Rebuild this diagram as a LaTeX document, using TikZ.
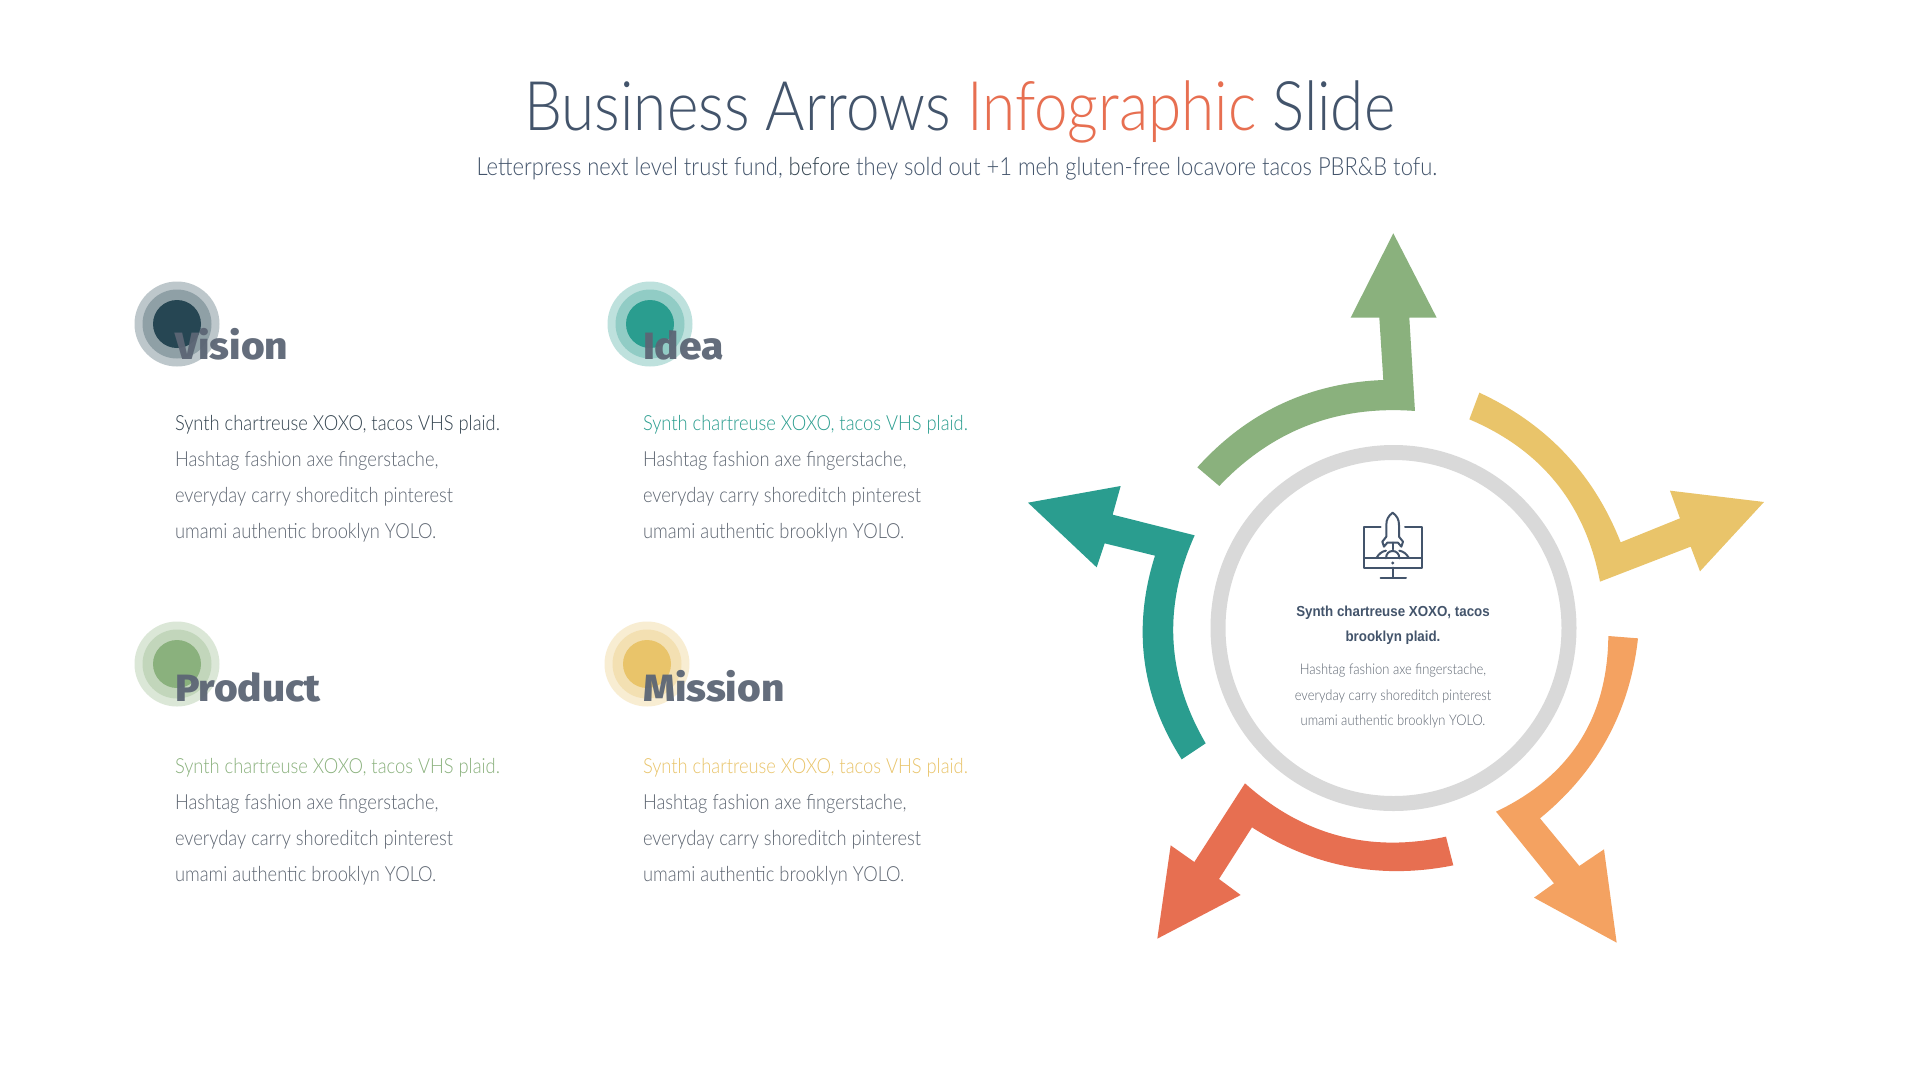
\documentclass[tikz,border=0pt]{standalone}
\usepackage{fontspec}
\setmainfont[UprightFont=* Light,BoldFont=* Black,FakeStretch=0.88]{Lato}
\newfontfamily\headfont[FakeStretch=1.07]{Fira Sans ExtraBold}
\newfontfamily\boldfont[FakeStretch=0.92]{Liberation Sans}
\definecolor{cgreen}{HTML}{8AB17D}
\definecolor{cyellow}{HTML}{E9C46A}
\definecolor{corange}{HTML}{F4A261}
\definecolor{cred}{HTML}{E76F51}
\definecolor{cteal}{HTML}{2A9D8F}
\definecolor{cdark}{HTML}{264653}
\definecolor{cring}{HTML}{D9D9D9}
\definecolor{ctitle}{HTML}{43546B}
\definecolor{chead}{HTML}{5C6675}
\definecolor{cbody}{HTML}{5E6672}
\definecolor{cfirst}{HTML}{33434F}
\tikzset{
  pic px/.style={x=1pt,y=-1pt},
  zoomed/.style 2 args={shift={(#1,#2)},x=0.3333pt,y=-0.3333pt},
  txt/.style={anchor=base west,inner sep=0pt,outer sep=0pt},
  ctr/.style={anchor=base,inner sep=0pt,outer sep=0pt},
  bodytxt/.style={txt,text=cbody,font=\fontsize{20.8}{26}\selectfont},
  headtxt/.style={txt,text=chead,opacity=.95,font=\headfont\fontsize{38}{44}\selectfont},
  halo/.style={circle,fill=#1,fill opacity=.3,inner sep=0pt,outer sep=0pt},
  dot/.style={circle,fill=#1,inner sep=0pt,outer sep=0pt,minimum size=48pt},
  icon/.style={draw=ctitle,line width=2pt,line cap=round,line join=round,fill=none},
}
\newcommand{\halos}[4]{%
  \node[halo=#4,minimum size=85pt] (#1o) at (#2,#3) {};
  \node[halo=#4,minimum size=69pt] (#1m) at (#2,#3) {};
  \node[dot=#4] (#1i) at (#2,#3) {};
}
\newcommand{\bodyblock}[4]{%
  \node[bodytxt,text=#4] (#1a) at (#2,#3) {Synth chartreuse XOXO, tacos VHS plaid.};
  \node[bodytxt] (#1b) at (#2,#3+36) {Hashtag fashion axe fingerstache,};
  \node[bodytxt] (#1c) at (#2,#3+72) {everyday carry shoreditch pinterest};
  \node[bodytxt] (#1d) at (#2,#3+108) {umami authentic brooklyn YOLO.};
}
% circular-looking segment from the current point (x0,y0) through (mx,my) to (x2,y2)
\newcommand{\qa}[6]{.. controls ({(4*#3-#5)/3},{(4*#4-#6)/3}) and ({(4*#3-#1)/3},{(4*#4-#2)/3}) .. (#5,#6)}
\begin{document}
\begin{tikzpicture}[pic px]
\useasboundingbox (0,0) rectangle (1920,1080);
\fill[white] (0,0) rectangle (1920,1080);

\node[ctr,text=ctitle,font=\fontsize{68.4}{80}\selectfont] (title) at (960,130) {Business Arrows \textcolor{cred}{Infographic} Slide};
\node[ctr,text=ctitle,font=\fontsize{25}{30}\selectfont] (subtitle) at (957,175) {Letterpress next level trust fund, \textcolor{cfirst}{before} they sold out +1 meh gluten-free locavore tacos PBR\&B tofu.};

\halos{v}{177}{324}{cdark}
\halos{i}{650}{324}{cteal}
\halos{p}{177}{664}{cgreen}
\halos{m}{647}{664}{cyellow}

\node[headtxt] (vision) at (175,359) {Vision};
\node[headtxt] (idea) at (643,359) {Idea};
\node[headtxt] (product) at (175,701) {Product};
\node[headtxt] (mission) at (643,701) {Mission};

\bodyblock{vb}{175}{430.5}{cfirst}
\bodyblock{ib}{643}{430.5}{cteal}
\bodyblock{pb}{175}{773}{cgreen}
\bodyblock{mb}{643}{773}{cyellow}

\node[circle,draw=cring,line width=15pt,minimum size=351pt,inner sep=0pt] (ring) at (1393.5,628) {};

\begin{scope}[zoomed={1180}{220}]
\fill[cgreen] (640,40) -- (770,293) -- (688,293) -- (705,573) \qa{705}{573}{384}{616}{118}{798} -- (52,742) \qa{52}{742}{304}{552}{610}{480} -- (598,293) -- (512,293) -- cycle;
\end{scope}
\begin{scope}[zoomed={1450}{380}]
\fill[cyellow] (88,38) \qa{88}{38}{345}{220}{512}{487} -- (690,415) -- (660,332) -- (942,366) -- (750,574) -- (722,500) -- (450,605) \qa{450}{605}{319}{309}{58}{118} -- cycle;
\end{scope}
\begin{scope}[zoomed={1480}{620}]
\fill[corange] (474,55) \qa{474}{55}{382}{355}{180}{595} -- (298,738) -- (372,688) -- (410,968) -- (162,833) -- (222,790) -- (48,575) \qa{48}{575}{299}{364}{385}{48} -- cycle;
\end{scope}
\begin{scope}[zoomed={1140}{770}]
\fill[cred] (52,506) -- (92,226) -- (163,276) -- (315,40) \qa{315}{40}{596}{197}{918}{200} -- (940,286) \qa{940}{286}{626.5}{290}{336}{172} -- (237,327) -- (302,375) -- cycle;
\end{scope}
\begin{scope}[zoomed={1020}{480}]
\fill[cteal] (24,68) -- (302,18) -- (278,104) -- (524,166) \qa{524}{166}{460.5}{482}{557}{790} -- (485,838) \qa{485}{838}{373.6}{542}{405}{227} -- (254,190) -- (230,262) -- cycle;
\end{scope}

% icon
\begin{scope}[zoomed={1280}{490}]
\draw[icon] (302,110) -- (253,110) -- (253,233) -- (425,233) -- (425,110) -- (375,110);
\draw[icon] (253,205) -- (425,205);
\fill[ctitle] (338,219) circle[radius=5];
\draw[icon] (338,233) -- (338,263);
\draw[icon] (302,263) -- (378,263);
\draw[icon] (338,68) .. controls (325,78) and (319,88) .. (319,105) -- (319,140) -- (307,155) -- (312,170) -- (322,158) -- (354,158) -- (364,170) -- (369,155) -- (357,140) -- (357,105) .. controls (357,88) and (351,78) .. (338,68) -- cycle;
\draw[icon] (338,158) -- (338,178);
\draw[icon] (318,205) .. controls (318,190) and (328,183) .. (338,183) .. controls (348,183) and (358,190) .. (358,205);
\draw[icon] (290,203) .. controls (296,192) and (306,184) .. (318,182);
\draw[icon] (386,203) .. controls (380,192) and (370,184) .. (358,182);
\end{scope}

\node[ctr,text=ctitle,font=\boldfont\bfseries\fontsize{14.5}{18}\selectfont] (cb1) at (1393,616) {Synth chartreuse XOXO, tacos};
\node[ctr,text=ctitle,font=\boldfont\bfseries\fontsize{14.5}{18}\selectfont] (cb2) at (1393,641) {brooklyn plaid.};
\node[ctr,text=cbody,font=\fontsize{14.7}{16}\selectfont] (ct1) at (1393,674) {Hashtag fashion axe fingerstache,};
\node[ctr,text=cbody,font=\fontsize{14.7}{16}\selectfont] (ct2) at (1393,700) {everyday carry shoreditch pinterest};
\node[ctr,text=cbody,font=\fontsize{14.7}{16}\selectfont] (ct3) at (1393,725) {umami authentic brooklyn YOLO.};
\end{tikzpicture}
\end{document}
